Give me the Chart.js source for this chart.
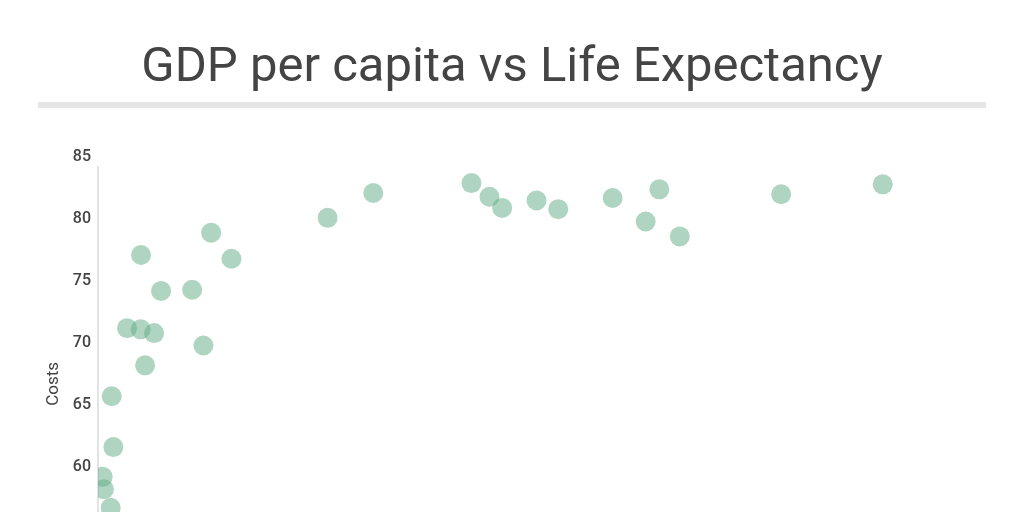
<!DOCTYPE html>
<html>
<head>
<meta charset="utf-8">
<script src="https://cdn.jsdelivr.net/npm/chart.js@4"></script>
<style>
  html, body { margin: 0; padding: 0; background: #fff; }
  body { width: 1024px; font-family: Roboto, "Noto Sans", sans-serif; }
  h1 {
    margin: 0;
    padding-top: 35px;
    height: 58px;
    text-align: center;
    font-weight: 400;
    font-size: 49px;
    line-height: 60px;
    color: #444;
  }
  .rule { margin: 9px 38px 0 38px; height: 6px; background: #e6e6e6; }
  .wrap { position: relative; width: 1024px; height: 516px; margin-top: 12px; }
</style>
</head>
<body>
<h1>GDP per capita vs Life Expectancy</h1>
<div class="rule"></div>
<div class="wrap"><canvas id="scatterChart"></canvas></div>
<script>
// GDP per capita (USD) and life expectancy (years)
const gdpPerCapita = [370, 470, 1000, 1210, 1080, 2290, 3370, 3390, 3710, 4420,
  4970, 7420, 8310, 8920, 10520, 18100, 21700, 29440, 30860, 31860,
  34570, 36280, 40570, 43170, 44250, 45860, 53850, 61860];
const lifeExpectancy = [60.0, 59.0, 57.5, 62.4, 66.5, 72.0, 71.9, 77.9, 69.0, 71.6,
  75.0, 75.1, 70.6, 79.7, 77.6, 80.9, 82.9, 83.7, 82.6, 81.7,
  82.3, 81.6, 82.5, 80.6, 83.2, 79.4, 82.8, 83.6];
const yTicks = [50, 55, 60, 65, 70, 75, 80, 85];

const points = gdpPerCapita.map((x, i) => ({ x: x, y: lifeExpectancy[i] }));

const ctx = document.getElementById('scatterChart').getContext('2d');
new Chart(ctx, {
  type: 'scatter',
  data: {
    datasets: [
      {
        label: 'Countries',
        data: points,
        pointRadius: 10,
        pointHoverRadius: 10,
        pointBorderWidth: 0,
        backgroundColor: 'rgba(96, 172, 134, 0.5)',
        borderColor: 'rgba(96, 172, 134, 0)',
      },
    ],
  },
  options: {
    responsive: true,
    maintainAspectRatio: false,
    animation: false,
    layout: { padding: { left: 38, right: 38, top: 47, bottom: 10 } },
    plugins: {
      legend: { display: false },
      tooltip: { enabled: false },
    },
    scales: {
      x: {
        type: 'linear',
        min: 0,
        max: 70000,
        grid: { display: false, drawTicks: false },
        border: { display: false },
        ticks: { color: '#444', font: { family: 'Roboto', size: 16, weight: '500' } },
      },
      y: {
        min: yTicks[0],
        max: yTicks[yTicks.length - 1],
        afterBuildTicks: (scale) => { scale.ticks = yTicks.map((v) => ({ value: v })); },
        afterFit: (scale) => { scale.width = 60; },
        grid: { display: false, drawTicks: false },
        border: { display: true, color: '#e3e3e3', width: 2 },
        ticks: {
          color: '#444',
          padding: 7,
          labelOffset: -10,
          font: { family: 'Roboto', size: 16, weight: '500' },
        },
        title: {
          display: true,
          text: 'Costs',
          color: '#444',
          padding: { top: 6, bottom: 10 },
          font: { family: 'Roboto', size: 17 },
        },
      },
    },
  },
});
</script>
</body>
</html>
